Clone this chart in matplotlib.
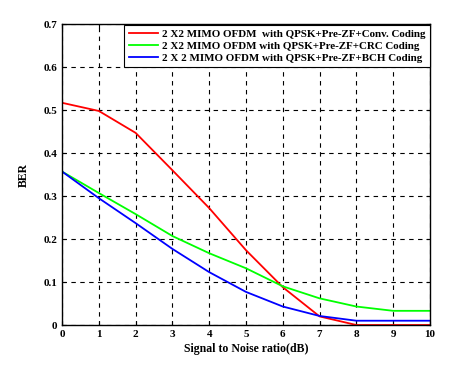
import matplotlib
matplotlib.use("Agg")
import matplotlib.pyplot as plt

# SNR points (dB)
snr = [0, 1, 2, 3, 4, 5, 6, 7, 8, 9, 10]

# BER values
ber_conv = [0.517, 0.498, 0.447, 0.36, 0.272, 0.174, 0.088, 0.02, 0.0, 0.0, 0.0]
ber_crc = [0.357, 0.307, 0.258, 0.207, 0.167, 0.132, 0.09, 0.062, 0.043, 0.033, 0.033]
ber_bch = [0.357, 0.295, 0.237, 0.177, 0.123, 0.077, 0.043, 0.021, 0.01, 0.01, 0.01]

labels = [
    "2 X2 MIMO OFDM  with QPSK+Pre-ZF+Conv. Coding",
    "2 X2 MIMO OFDM with QPSK+Pre-ZF+CRC Coding",
    "2 X 2 MIMO OFDM with QPSK+Pre-ZF+BCH Coding",
]

plt.rcParams['font.family'] = ['Liberation Serif', 'DejaVu Serif']
plt.rcParams['font.weight'] = 'bold'

fig = plt.figure(figsize=(4.74, 3.66), dpi=100)
# axes box: x 62..430 px, y 24..325 px
ax = fig.add_axes([0.131, 0.112, 0.776, 0.822])

ax.plot(snr, ber_conv, color='#ff0000', lw=1.3, label=labels[0])
ax.plot(snr, ber_crc, color='#00ff00', lw=1.3, label=labels[1])
ax.plot(snr, ber_bch, color='#0000ff', lw=1.3, label=labels[2])

ax.set_xlim(0, 10)
ax.set_ylim(0, 0.7)
ax.set_xticks(range(0, 11))
ax.set_yticks([0, 0.1, 0.2, 0.3, 0.4, 0.5, 0.6, 0.7])
ax.set_yticklabels(['0', '0.1', '0.2', '0.3', '0.4', '0.5', '0.6', '0.7'])
ax.grid(True, color='black', linestyle=(0, (4, 4)), lw=0.8)
ax.tick_params(direction='in', top=True, right=True, labelsize=8, length=3)
for s in ax.spines.values():
    s.set_linewidth(1.0)

ax.set_xlabel('Signal to Noise ratio(dB)', fontsize=8.5, fontweight='bold', labelpad=3)
ax.set_ylabel('BER', fontsize=8.5, fontweight='bold', labelpad=10)

leg = ax.legend(loc='upper right', fontsize=7.95, frameon=True, fancybox=False,
                handlelength=2.6, borderpad=0.4, labelspacing=0.2,
                handletextpad=0.4, borderaxespad=0.0,
                bbox_to_anchor=(1.0, 0.997))
leg.get_frame().set_edgecolor('black')
leg.get_frame().set_linewidth(0.8)
leg.get_frame().set_alpha(1)

fig.savefig('out.png', dpi=100)
